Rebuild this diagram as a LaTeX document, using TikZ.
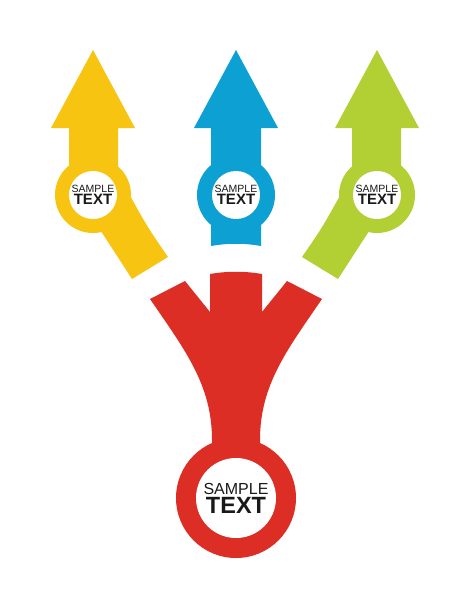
\documentclass[tikz,border=0pt]{standalone}
\usepackage{fontspec}
\setmainfont{Liberation Sans}
\definecolor{arrowyellow}{RGB}{247,196,18}
\definecolor{arrowblue}{RGB}{12,160,211}
\definecolor{arrowgreen}{RGB}{178,208,52}
\definecolor{funnelred}{RGB}{221,46,38}
\newcommand{\boldtext}[1]{{\fontsize{#1}{#1}\selectfont\bfseries TEXT}}
\tikzset{
  smalllabel/.style={minimum size=48pt,font=\fontsize{10.5}{12.5}\selectfont},
  biglabel/.style={minimum size=80pt,font=\fontsize{16}{19}\selectfont}
}
\begin{document}
\begin{tikzpicture}
  [x=1pt,y=-1pt,every node/.style={circle,fill=white,inner sep=0pt,
align=center,text=black!90}]
  \useasboundingbox (0,0) rectangle (476,600);
  \fill[white] (0,0) rectangle (476,600);

  \fill[arrowyellow] (93,50) -- (135,128) -- (118,128) -- (118,195) -- (69,195) -- (69,128) -- (51,128) -- cycle;
  \fill[arrowyellow] (93,195) circle [radius=38];
  \fill[arrowyellow] (95,222) .. controls (110,245) .. (132,279) -- (168,257)
    .. controls (148,228) .. (128,192) -- cycle;
  \node[smalllabel] (yellowlabel) at (93,195) {SAMPLE\\\boldtext{15}};

  \fill[arrowblue] (236,50) -- (278,128) -- (261,128) -- (261,246)
    .. controls (244,243) and (228,243) .. (211,246) -- (211,128) -- (194,128) -- cycle;
  \fill[arrowblue] (236,195) circle [radius=39];
  \node[smalllabel] (bluelabel) at (236,195) {SAMPLE\\\boldtext{15}};

  \fill[arrowgreen] (377,50) -- (419,128) -- (401,128) -- (401,195) -- (352,195) -- (352,128) -- (335,128) -- cycle;
  \fill[arrowgreen] (377,195) circle [radius=38];
  \fill[arrowgreen] (375,222) .. controls (360,245) .. (338,279) -- (302,257)
    .. controls (322,228) .. (342,192) -- cycle;
  \node[smalllabel] (greenlabel) at (377,195) {SAMPLE\\\boldtext{15}};

  \fill[funnelred] (150,299) -- (185,281) -- (210,312) -- (210,274)
    .. controls (227,271) and (245,271) .. (262,274) -- (262,312) -- (287,281) -- (322,299)
    .. controls (287,350) and (260,385) .. (260,440) -- (260,460) -- (212,460) -- (212,440)
    .. controls (212,385) and (185,350) .. (150,299) -- cycle;
  \fill[funnelred] (236,498) circle [radius=60];
  \node[biglabel] (redlabel) at (236,498) {SAMPLE\\\boldtext{23.5}};

\end{tikzpicture}
\end{document}
